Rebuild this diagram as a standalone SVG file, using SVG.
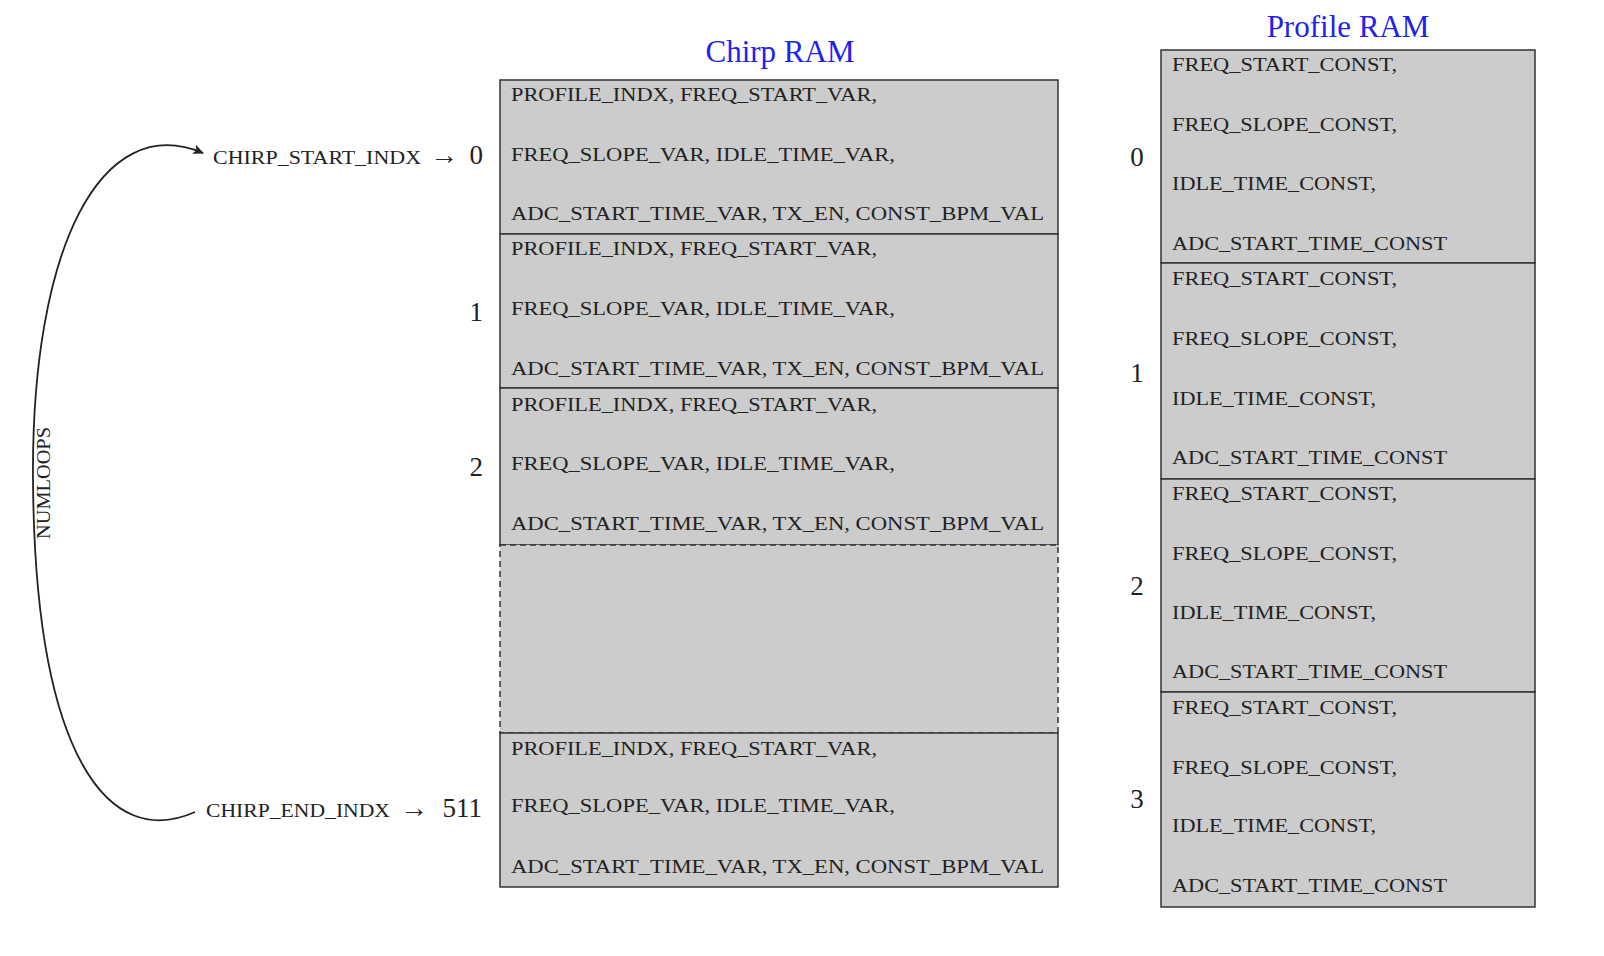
<svg xmlns="http://www.w3.org/2000/svg" width="1604" height="956" viewBox="0 0 1604 956">
<style>
.box{fill:#cccccc;stroke:#333;stroke-width:1.5}
.t{font-family:"Liberation Serif",serif;font-size:18px;fill:#222}
.n{font-family:"Liberation Serif",serif;font-size:27px;fill:#222}
.h{font-family:"Liberation Serif",serif;font-size:31px;fill:#2222ee}
</style>
<defs><marker id="ar" markerWidth="12" markerHeight="10" refX="10" refY="5" orient="auto" markerUnits="userSpaceOnUse"><path d="M0,0 L11,5 L0,10 L3,5 Z" fill="#222"/></marker>
<g id="pa"><text class="t" x="0" y="0" textLength="366" lengthAdjust="spacingAndGlyphs">PROFILE_INDX, FREQ_START_VAR,</text></g>
<g id="pb"><text class="t" x="0" y="0" textLength="384" lengthAdjust="spacingAndGlyphs">FREQ_SLOPE_VAR, IDLE_TIME_VAR,</text></g>
<g id="pc"><text class="t" x="0" y="0" textLength="533" lengthAdjust="spacingAndGlyphs">ADC_START_TIME_VAR, TX_EN, CONST_BPM_VAL</text></g>
</defs>
<rect width="1604" height="956" fill="#fff"/>
<text class="h" x="780" y="62" text-anchor="middle">Chirp RAM</text>
<text class="h" x="1348" y="37" text-anchor="middle">Profile RAM</text>
<g id="chirp0"><rect class="box" x="500" y="80" width="558" height="154"/>
<use href="#pa" x="511" y="101"/><use href="#pb" x="511" y="161"/><use href="#pc" x="511" y="220"/></g>
<g id="chirp1"><rect class="box" x="500" y="234" width="558" height="154"/>
<use href="#pa" x="511" y="255"/><use href="#pb" x="511" y="315"/><use href="#pc" x="511" y="375"/></g>
<g id="chirp2"><rect class="box" x="500" y="388" width="558" height="157"/>
<use href="#pa" x="511" y="411"/><use href="#pb" x="511" y="470"/><use href="#pc" x="511" y="530"/></g>
<g id="chirpgap"><rect x="500" y="545" width="558" height="188" fill="#cccccc" stroke="#333" stroke-width="1.5" stroke-dasharray="6,4"/></g>
<g id="chirp511"><rect class="box" x="500" y="733" width="558" height="154"/>
<use href="#pa" x="511" y="755"/><use href="#pb" x="511" y="812"/><use href="#pc" x="511" y="873"/></g>
<defs>
<g id="qa"><text class="t" x="0" y="0" textLength="225" lengthAdjust="spacingAndGlyphs">FREQ_START_CONST,</text></g>
<g id="qb"><text class="t" x="0" y="0" textLength="225" lengthAdjust="spacingAndGlyphs">FREQ_SLOPE_CONST,</text></g>
<g id="qc"><text class="t" x="0" y="0" textLength="204" lengthAdjust="spacingAndGlyphs">IDLE_TIME_CONST,</text></g>
<g id="qd"><text class="t" x="0" y="0" textLength="275" lengthAdjust="spacingAndGlyphs">ADC_START_TIME_CONST</text></g>
</defs>
<g id="prof0"><rect class="box" x="1161" y="50" width="374" height="213"/>
<use href="#qa" x="1172" y="71"/><use href="#qb" x="1172" y="131"/><use href="#qc" x="1172" y="190"/><use href="#qd" x="1172" y="250"/></g>
<g id="prof1"><rect class="box" x="1161" y="263" width="374" height="216"/>
<use href="#qa" x="1172" y="285"/><use href="#qb" x="1172" y="345"/><use href="#qc" x="1172" y="405"/><use href="#qd" x="1172" y="464"/></g>
<g id="prof2"><rect class="box" x="1161" y="479" width="374" height="213"/>
<use href="#qa" x="1172" y="500"/><use href="#qb" x="1172" y="560"/><use href="#qc" x="1172" y="619"/><use href="#qd" x="1172" y="678"/></g>
<g id="prof3"><rect class="box" x="1161" y="692" width="374" height="215"/>
<use href="#qa" x="1172" y="714"/><use href="#qb" x="1172" y="774"/><use href="#qc" x="1172" y="832"/><use href="#qd" x="1172" y="892"/></g>
<g id="labels">
<text class="t" x="213" y="164" textLength="208" lengthAdjust="spacingAndGlyphs">CHIRP_START_INDX</text>
<text class="n" x="430" y="164" textLength="28" lengthAdjust="spacingAndGlyphs">→</text>
<text class="n" x="483" y="164" text-anchor="end">0</text>
<text class="n" x="483" y="321" text-anchor="end">1</text>
<text class="n" x="483" y="476" text-anchor="end">2</text>
<text class="t" x="206" y="817" textLength="184" lengthAdjust="spacingAndGlyphs">CHIRP_END_INDX</text>
<text class="n" x="400" y="817" textLength="28" lengthAdjust="spacingAndGlyphs">→</text>
<text class="n" x="482" y="817" text-anchor="end">511</text>
<text class="n" x="1137" y="166" text-anchor="middle">0</text>
<text class="n" x="1137" y="382" text-anchor="middle">1</text>
<text class="n" x="1137" y="595" text-anchor="middle">2</text>
<text class="n" x="1137" y="808" text-anchor="middle">3</text>
<text class="t" x="0" y="0" font-size="15" transform="translate(50,483) rotate(-90)" text-anchor="middle" textLength="112" lengthAdjust="spacingAndGlyphs">NUMLOOPS</text>
</g>
<g id="connectors"><path d="M195,812 C110,850 35,760 33,480 C31,250 100,110 203,153" fill="none" stroke="#222" stroke-width="1.8" marker-end="url(#ar)"/></g>
</svg>
